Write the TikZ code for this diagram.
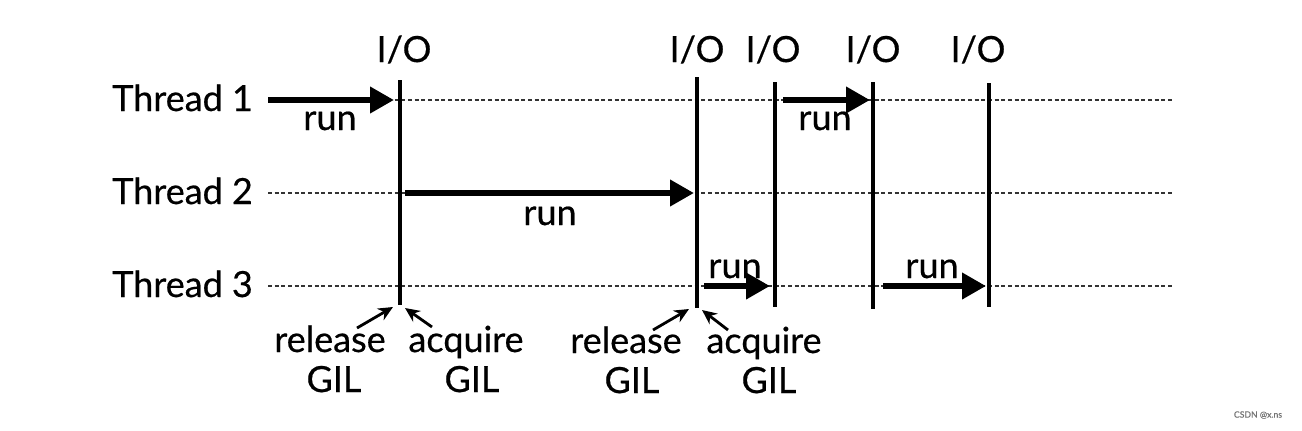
\documentclass[tikz,border=0pt]{standalone}
\usepackage{fontspec}
\setmainfont{Lato}[FakeBold=0.5]
\usetikzlibrary{positioning}
\usetikzlibrary{arrows}
\usetikzlibrary{arrows.meta}
\tikzset{>=stealth'}
\tikzset{lab/.style={font=\fontsize{27}{32}\selectfont, inner sep=0pt}}
\tikzset{row/.style={line width=0.8pt, black!80, dash pattern=on 3pt off 2pt}}
\tikzset{io/.style={line width=2.4pt}}
\tikzset{run/.style={line width=5pt, -{Triangle[length=18pt,width=19pt]}}}
\tikzset{ptr/.style={line width=2.1pt, -{Stealth[length=11pt,width=10pt]}}}

\begin{document}
\begin{tikzpicture}[x=0.75pt,y=-0.75pt]
        \useasboundingbox (0,0) rectangle (1302,430);

        % thread rows
        \node[lab, anchor=base west] (T1) at (112,111) {Thread 1};
        \node[lab, anchor=base west] (T2) at (112,204) {Thread 2};
        \node[lab, anchor=base west] (T3) at (112,297) {Thread 3};
        \coordinate (R1s) at (268,100); \coordinate (R1e) at (1172,100);
        \coordinate (R2s) at (268,193); \coordinate (R2e) at (1172,193);
        \coordinate (R3s) at (268,286); \coordinate (R3e) at (1172,286);
        \draw[row] (R1s) -- (R1e);
        \draw[row] (R2s) -- (R2e);
        \draw[row] (R3s) -- (R3e);

        % I/O switches
        \node[lab, anchor=base] (IO1) at (404,62) {I/O};
        \node[lab, anchor=base] (IO2) at (697,62) {I/O};
        \node[lab, anchor=base] (IO3) at (773,62) {I/O};
        \node[lab, anchor=base] (IO4) at (873,62) {I/O};
        \node[lab, anchor=base] (IO5) at (978,62) {I/O};
        \coordinate (S1t) at (400,80);  \coordinate (S1b) at (400,305);
        \coordinate (S2t) at (697,77);  \coordinate (S2b) at (697,308);
        \coordinate (S3t) at (775,82);  \coordinate (S3b) at (775,307);
        \coordinate (S4t) at (873,82);  \coordinate (S4b) at (873,309);
        \coordinate (S5t) at (989,83);  \coordinate (S5b) at (989,307);
        \draw[io] (S1t) -- (S1b);
        \draw[io] (S2t) -- (S2b);
        \draw[io] (S3t) -- (S3b);
        \draw[io] (S4t) -- (S4b);
        \draw[io] (S5t) -- (S5b);

        % running slices
        \coordinate (A1s) at (268,100); \coordinate (A1e) at (394,100);
        \coordinate (A2s) at (405,193); \coordinate (A2e) at (694,193);
        \coordinate (A3s) at (783,100); \coordinate (A3e) at (870,100);
        \coordinate (A4s) at (704,286); \coordinate (A4e) at (770,286);
        \coordinate (A5s) at (883,286); \coordinate (A5e) at (986,286);
        \draw[run] (A1s) -- (A1e);
        \draw[run] (A2s) -- (A2e);
        \draw[run] (A3s) -- (A3e);
        \draw[run] (A4s) -- (A4e);
        \draw[run] (A5s) -- (A5e);
        \node[lab, anchor=base] (run1) at (330,130) {run};
        \node[lab, anchor=base] (run2) at (550,225) {run};
        \node[lab, anchor=base] (run3) at (825,130) {run};
        \node[lab, anchor=base] (run4) at (735,278) {run};
        \node[lab, anchor=base] (run5) at (932,278) {run};

        % GIL hand-over
        \node[lab, anchor=base] (rel1) at (330,352) {release};
        \node[lab, anchor=base] (gil1) at (334,392) {GIL};
        \node[lab, anchor=base] (acq1) at (466,352) {acquire};
        \node[lab, anchor=base] (gil2) at (472,392) {GIL};
        \node[lab, anchor=base] (rel2) at (626,353) {release};
        \node[lab, anchor=base] (gil3) at (632,393) {GIL};
        \node[lab, anchor=base] (acq2) at (764,353) {acquire};
        \node[lab, anchor=base] (gil4) at (769,393) {GIL};
        \coordinate (P1) at (357,328); \coordinate (Q1) at (393,307);
        \coordinate (P2) at (432,327); \coordinate (Q2) at (405,308);
        \coordinate (P3) at (653,330); \coordinate (Q3) at (689,309);
        \coordinate (P4) at (728,330); \coordinate (Q4) at (702,310);
        \draw[ptr] (P1) -- (Q1);
        \draw[ptr] (P2) -- (Q2);
        \draw[ptr] (P3) -- (Q3);
        \draw[ptr] (P4) -- (Q4);

        \node[font=\fontsize{6.5}{8}\selectfont, black!55, inner sep=0pt] (wm) at (1258,415) {CSDN @x.ns};
    \end{tikzpicture}
\end{document}
